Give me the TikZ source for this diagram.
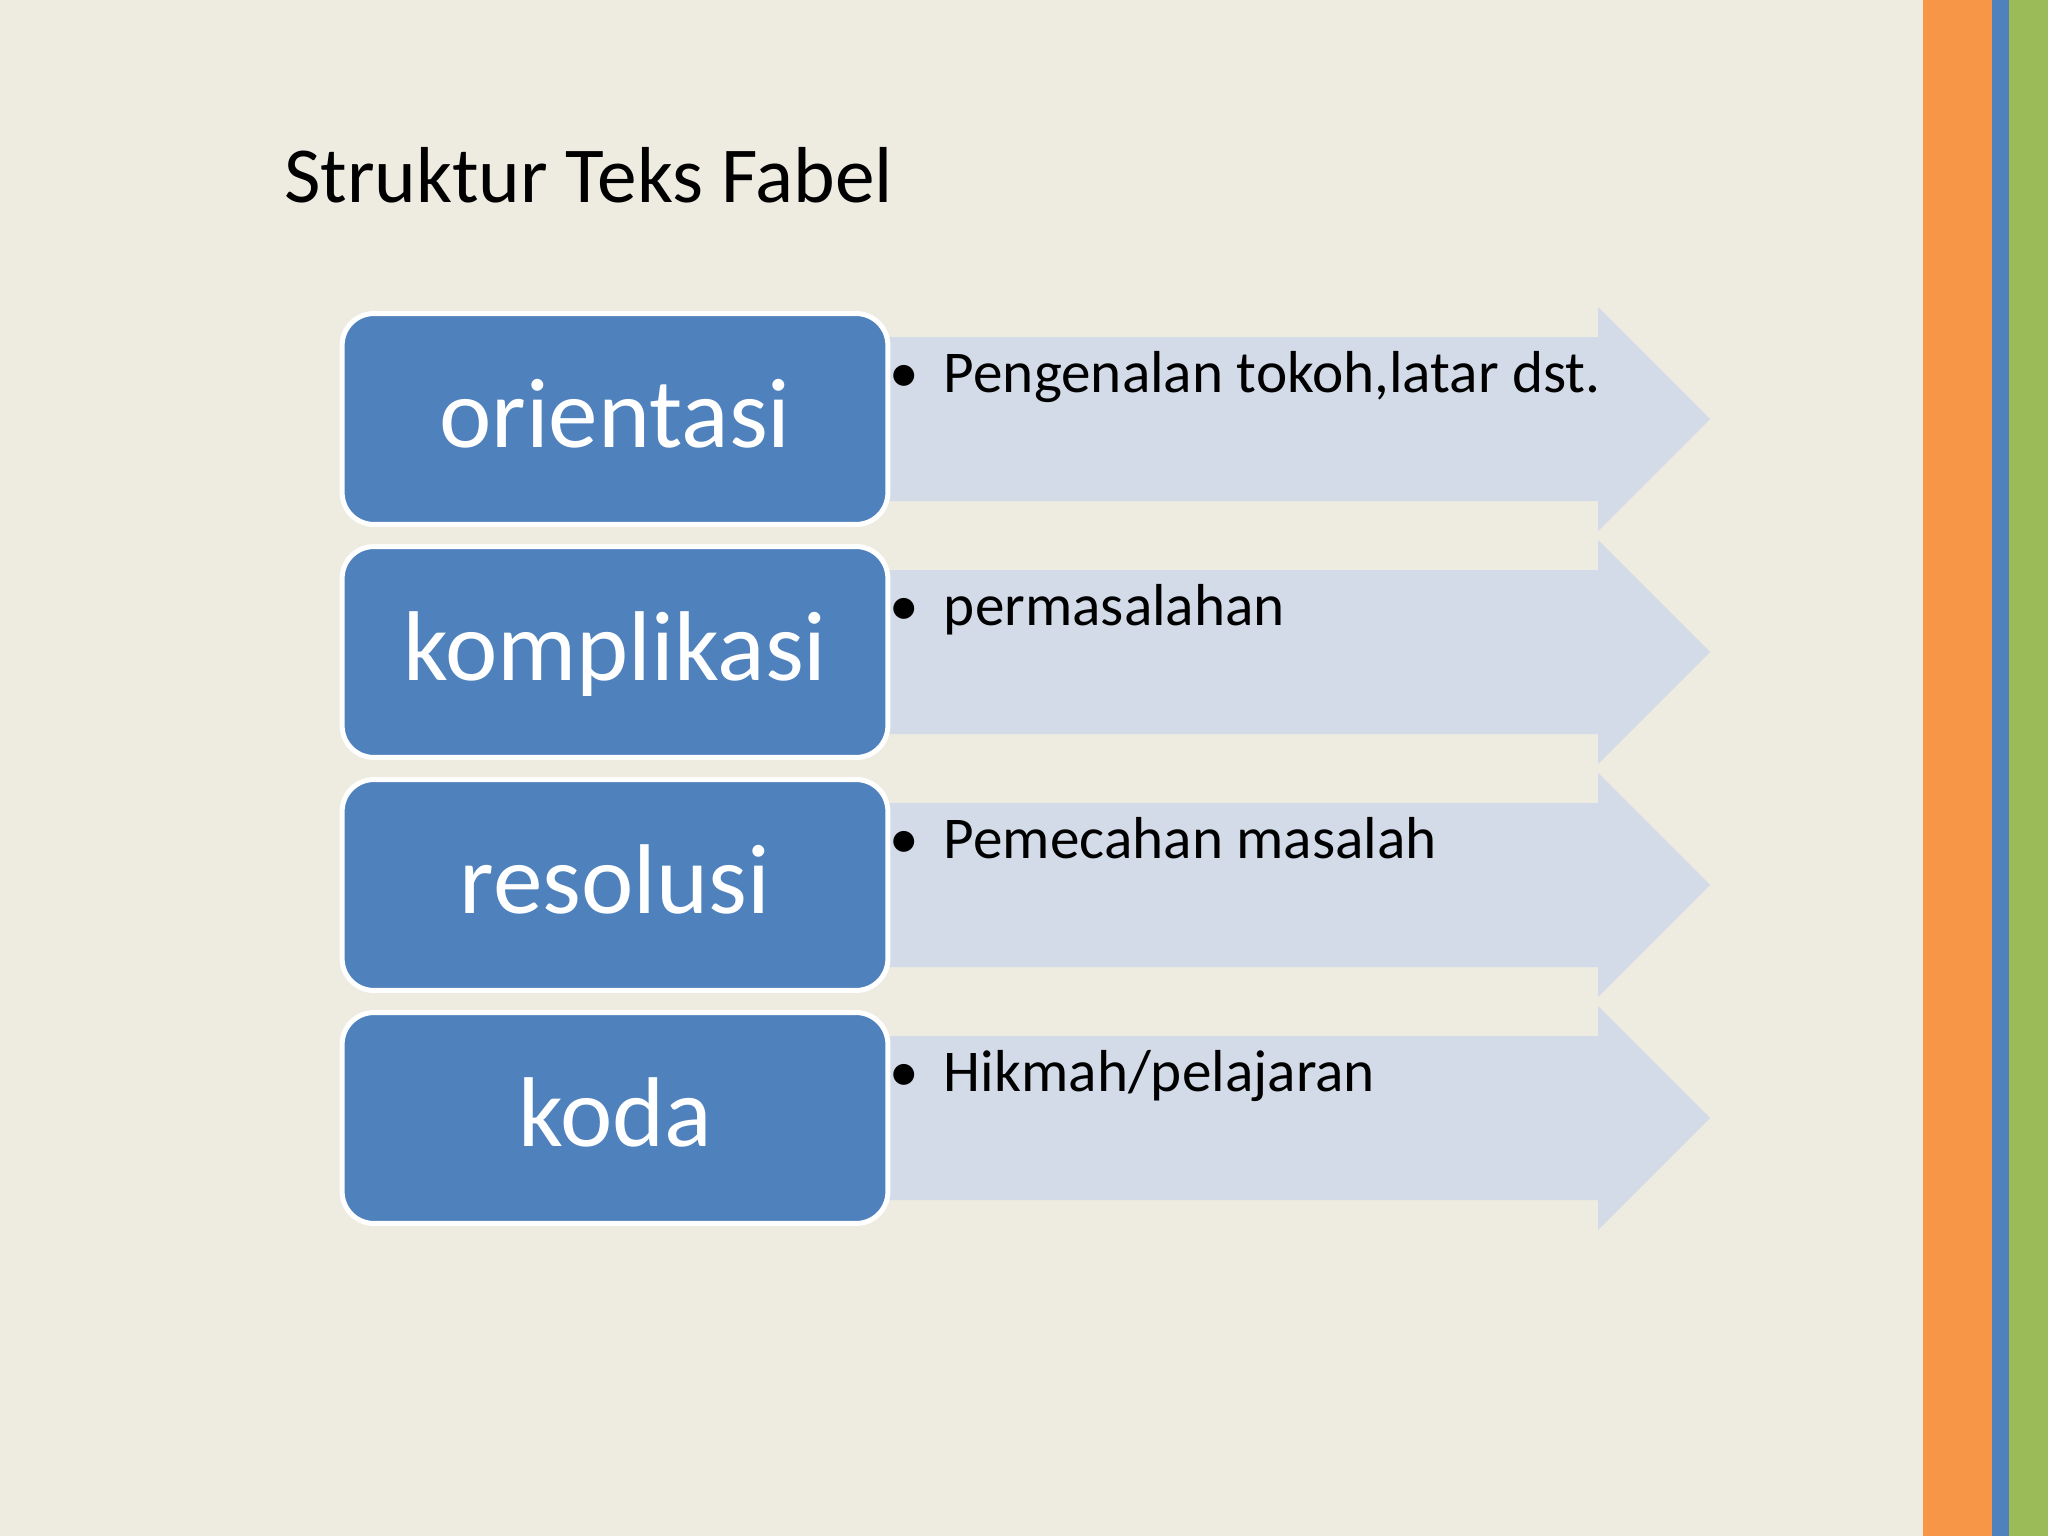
\documentclass[tikz,border=0pt]{standalone}
\usepackage{fontspec}
\setmainfont{Carlito}
\definecolor{latar}{HTML}{EEECE1}
\definecolor{biru}{HTML}{4F81BD}
\definecolor{biruMuda}{HTML}{D3DBE8}
\definecolor{oranye}{HTML}{F79646}
\definecolor{hijau}{HTML}{9BBB59}
\begin{document}
\begin{tikzpicture}[x=0.0124cm, y=-0.0124cm,
    kotak/.style={draw=white, line width=1.76pt, fill=biru, rounded corners=11.2pt,
        minimum width=6.77cm, minimum height=2.616cm, text=white,
        font=\fontsize{35}{42}\selectfont, text height=19.8pt, text depth=0pt},
    panah/.style={fill=biruMuda},
    isi/.style={anchor=base west, font=\fontsize{20.9}{25}\selectfont}]
    \fill[latar] (0,0) rectangle (2048,1536);
    \fill[oranye] (1923,0) rectangle (1992,1536);
    \fill[biru] (1992,0) rectangle (2009,1536);
    \fill[hijau] (2009,0) rectangle (2048,1536);

    \node[anchor=base west, font=\fontsize{28}{33}\selectfont] (judul) at (274,203) {Struktur Teks Fabel};

    \fill[panah] (615,337) -- (1598,337) -- (1598,307) -- (1710,419) -- (1598,531) -- (1598,501) -- (615,501) -- cycle;
    \fill[panah] (615,570) -- (1598,570) -- (1598,540) -- (1710,652) -- (1598,764) -- (1598,734) -- (615,734) -- cycle;
    \fill[panah] (615,803) -- (1598,803) -- (1598,773) -- (1710,885) -- (1598,997) -- (1598,967) -- (615,967) -- cycle;
    \fill[panah] (615,1036) -- (1598,1036) -- (1598,1006) -- (1710,1118) -- (1598,1230) -- (1598,1200) -- (615,1200) -- cycle;

    \node[kotak] (orientasi) at (615,419) {orientasi};
    \node[kotak] (komplikasi) at (615,652) {komplikasi};
    \node[kotak] (resolusi) at (615,885) {resolusi};
    \node[kotak] (koda) at (615,1118) {koda};

    \node[isi] (tokoh) at (934,392) {\llap{\textbullet\hspace{9pt}}Pengenalan tokoh,latar dst.};
    \node[isi] (masalah) at (934,625) {\llap{\textbullet\hspace{9pt}}permasalahan};
    \node[isi] (pemecahan) at (934,858) {\llap{\textbullet\hspace{9pt}}Pemecahan masalah};
    \node[isi] (hikmah) at (934,1091) {\llap{\textbullet\hspace{9pt}}Hikmah/pelajaran};
\end{tikzpicture}
\end{document}
